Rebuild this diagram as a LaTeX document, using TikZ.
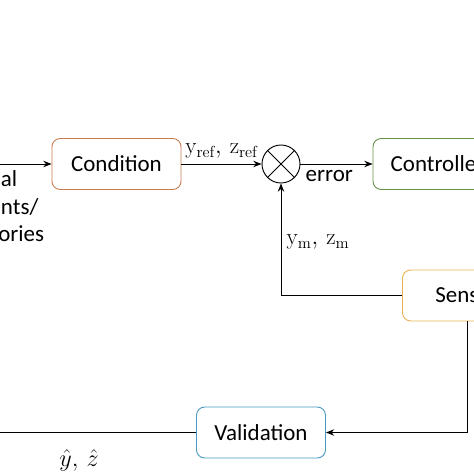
\documentclass[tikz,border=0pt]{standalone}
\usepackage{fontspec}
\newfontfamily\calib{Carlito}
\usetikzlibrary{arrows.meta}

\definecolor{condcol}{RGB}{201,124,82}
\definecolor{ctrlcol}{RGB}{106,145,74}
\definecolor{senscol}{RGB}{232,178,78}
\definecolor{valcol}{RGB}{72,152,192}

\begin{document}
\begin{tikzpicture}[
    >={Stealth[length=7pt,width=5.5pt]},
    box/.style={draw, line width=0.8pt, rounded corners=7pt, minimum width=3.87cm, minimum height=1.53cm, align=center, font=\calib\fontsize{19.6}{23}\selectfont},
    txt/.style={font=\calib\fontsize{19.6}{23}\selectfont},
    lbl/.style={font=\fontsize{19.6}{23}\selectfont},
    wire/.style={line width=0.8pt}
]
    \useasboundingbox (0,0) rectangle (14.22,14.22);

    % Forward path
    \coordinate (in) at (-1,9.3);
    \node[box, draw=condcol] (cond) at (3.495,9.3) {Condition};
    \node[draw, circle, line width=0.8pt, minimum size=1.14cm] (sum) at (8.43,9.3) {};
    \draw[wire] (sum.north west) -- (sum.south east) (sum.north east) -- (sum.south west);
    \node[box, draw=ctrlcol] (ctrl) at (13.125,9.3) {Controller};

    \draw[wire, ->] (in) -- (cond);
    \draw[wire, ->] (cond) -- node[lbl, above=1pt] {$\mathrm{y}_{\mathrm{ref}},\, \mathrm{z}_{\mathrm{ref}}$} (sum);
    \draw[wire, ->] (sum) -- node[txt, below=2pt, pos=0.4] {error} (ctrl);

    % Feedback path
    \node[box, draw=senscol] (sens) at (14.01,5.355) {Sensor};
    \draw[wire, ->] (sens.west) -| (sum.south);

    \node[box, draw=valcol] (val) at (7.83,1.245) {Validation};
    \draw[wire, ->] (sens.south) |- (val.east);
    \coordinate (out) at (-1,1.245);
    \draw[wire] (val.west) -- (out);

    % Labels
    \node[txt, align=center, font=\calib\fontsize{19.6}{23.4}\selectfont] (setp) at (-0.27,7.98) {Initial\\setpoints/\\trajectories};
    \node[lbl] (meas) at (9.54,6.96) {$\mathrm{y}_{\mathrm{m}},\, \mathrm{z}_{\mathrm{m}}$};
    \node[lbl] (est) at (2.37,0.42) {$\hat{y},\, \hat{z}$};
\end{tikzpicture}
\end{document}
